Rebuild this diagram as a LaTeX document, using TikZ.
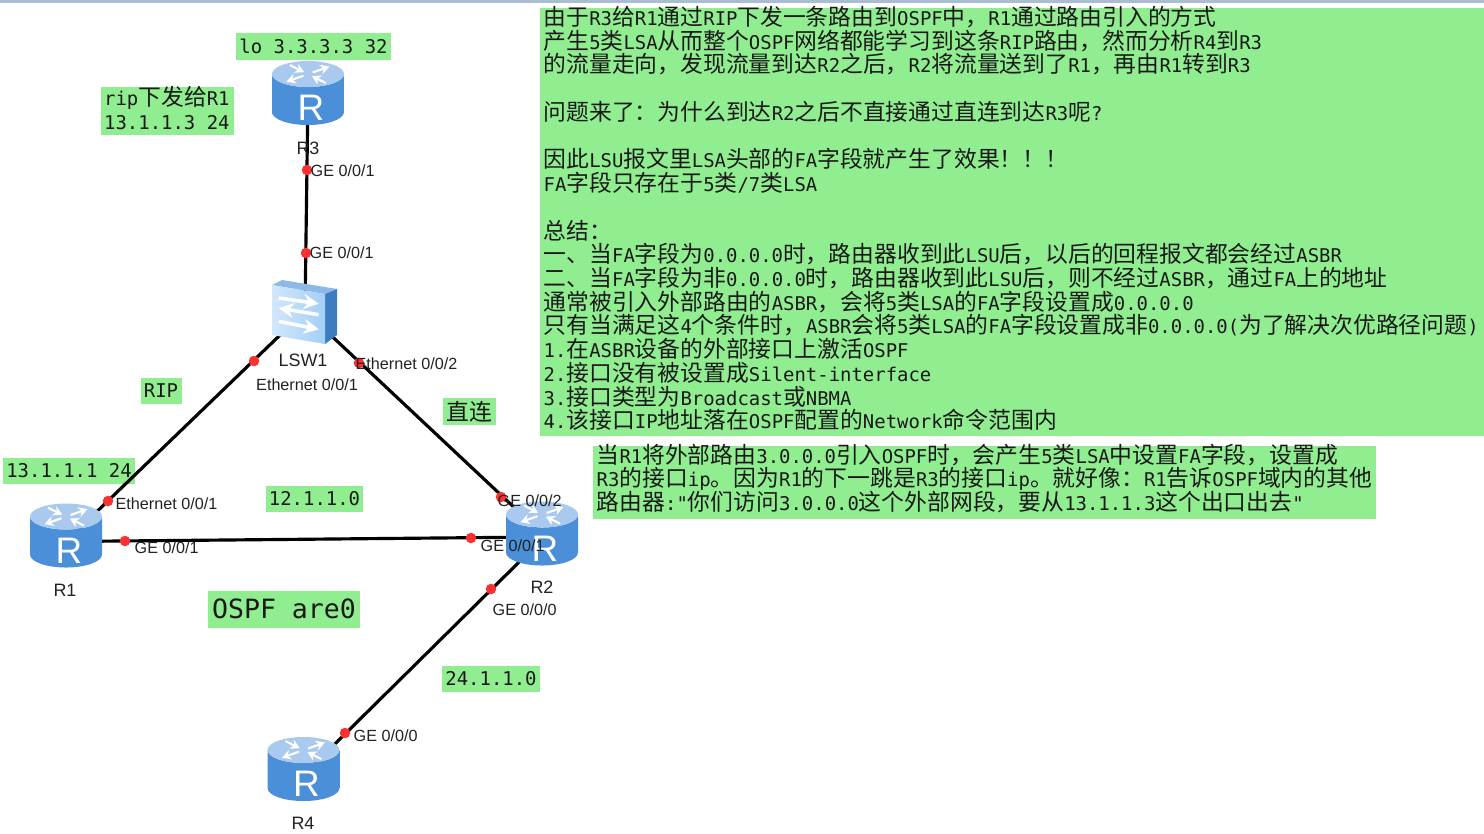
\documentclass[tikz,border=0pt]{standalone}
\usepackage{fontspec}
\usetikzlibrary{arrows.meta}
\setmainfont{Liberation Sans}
\newfontfamily\cjk{Noto Sans CJK SC}
\newfontfamily\latinfont[Scale=0.83]{DejaVu Sans Mono}
\newXeTeXintercharclass\cjkclass
\newcount\cjkcode
\newcommand\markcjk[2]{\cjkcode=#1 \loop\XeTeXcharclass\cjkcode=\cjkclass\ifnum\cjkcode<#2 \advance\cjkcode by 1 \repeat}
\markcjk{"3000}{"303F}
\markcjk{"4E00}{"9FFF}
\markcjk{"FF00}{"FFEF}
\XeTeXinterchartoks 0 \cjkclass={\cjk}
\XeTeXinterchartoks 4095 \cjkclass={\cjk}
\XeTeXinterchartoks \cjkclass 0={\latinfont}
\XeTeXinterchartoks 4095 0={\latinfont}
\newcommand\mixfont[2]{\fontsize{#1}{#2}\selectfont\XeTeXinterchartokenstate=1 \latinfont}
\definecolor{boxgreen}{HTML}{90EE90}
\definecolor{topbar}{HTML}{A9BDD3}
\definecolor{portred}{HTML}{FB3030}
\definecolor{labelgray}{HTML}{222222}
\definecolor{routerside}{HTML}{4A8FD8}
\definecolor{routermid}{HTML}{6AAEEA}
\definecolor{routertop}{HTML}{A9C9EE}
\definecolor{switchtop}{HTML}{8DB8E8}
\definecolor{switchside}{HTML}{3D7CC0}
\definecolor{switchlight}{HTML}{D2E7FB}
\definecolor{switchdark}{HTML}{A3CFF6}
\tikzset{
  greenbox/.style={fill=boxgreen, inner sep=0pt, text=black!90, font=\mixfont{6.49pt}{6.75pt}},
  device/.style={inner sep=0pt, minimum size=1mm},
  portdot/.style={circle, fill=portred, inner sep=0pt, minimum size=0.105cm},
  portlabel/.style={inner sep=0pt, text=labelgray, font=\fontsize{4.6pt}{5pt}\selectfont},
  devname/.style={inner sep=0pt, text=labelgray, font=\fontsize{5.1pt}{6pt}\selectfont},
  link/.style={line width=0.9pt, black},
  router/.pic={
    \shade[left color=routerside, middle color=routermid, right color=routerside]
      (-.36,.19) -- (-.36,-.19) arc[x radius=.36, y radius=.13, start angle=180, end angle=360] -- (.36,.19) arc[x radius=.36, y radius=.13, start angle=0, end angle=-180] -- cycle;
    \fill[routertop] (0,.19) ellipse[x radius=.36, y radius=.13];
    \foreach \ang/\dr in {40/1,130/-1,220/1,310/-1}
      \draw[white, line width=.6pt, -{Stealth[length=.9mm, width=1mm]}, yscale=.42, shift={(0,.45)}]
        (\ang:{.17-.11*\dr}) -- (\ang:{.17+.11*\dr});
    \node[text=white, inner sep=0pt, font=\fontsize{10.5pt}{11pt}\selectfont] (-letter) at (.03,-.15) {R};
  },
  switch/.pic={
    \fill[switchtop] (-.33,.26) -- (-.23,.31) -- (.32,.22) -- (.20,.17) -- cycle;
    \fill[switchside] (.20,.17) -- (.32,.22) -- (.32,-.24) -- (.20,-.33) -- cycle;
    \shade[left color=switchlight, right color=switchdark] (-.33,.26) -- (.20,.17) -- (.20,-.33) -- (-.33,-.24) -- cycle;
    \draw[white, line width=1pt, -{Stealth[length=1.5mm, width=1.5mm]}] (-.263,.13) -- (.137,.073);
    \draw[white, line width=1pt, -{Stealth[length=1.5mm, width=1.5mm]}] (.137,-.037) -- (-.263,.03);
    \draw[white, line width=1pt, -{Stealth[length=1.5mm, width=1.5mm]}] (-.263,-.103) -- (.137,-.183);
  }
}
\begin{document}
\begin{tikzpicture}
\useasboundingbox (0,0) rectangle (14.84,-8.33);
\fill[white] (0,0) rectangle (14.84,-8.33);
\fill[topbar] (0,0) rectangle (14.84,-0.03);

% text boxes
\fill[boxgreen] (5.40,-0.08) rectangle (14.84,-4.36);
\node[greenbox, fill=none, anchor=north west, align=left] (summary) at (5.43,-0.055) {由于R3给R1通过RIP下发一条路由到OSPF中，R1通过路由引入的方式\\
产生5类LSA从而整个OSPF网络都能学习到这条RIP路由，然而分析R4到R3\\
的流量走向，发现流量到达R2之后，R2将流量送到了R1，再由R1转到R3\\[6.75pt]
问题来了：为什么到达R2之后不直接通过直连到达R3呢?\\[6.75pt]
因此LSU报文里LSA头部的FA字段就产生了效果！！！\\
FA字段只存在于5类/7类LSA\\[6.75pt]
总结：\\
一、当FA字段为0.0.0.0时，路由器收到此LSU后，以后的回程报文都会经过ASBR\\
二、当FA字段为非0.0.0.0时，路由器收到此LSU后，则不经过ASBR，通过FA上的地址\\
通常被引入外部路由的ASBR，会将5类LSA的FA字段设置成0.0.0.0\\
只有当满足这4个条件时，ASBR会将5类LSA的FA字段设置成非0.0.0.0(为了解决次优路径问题)\\
1.在ASBR设备的外部接口上激活OSPF\\
2.接口没有被设置成Silent-interface\\
3.接口类型为Broadcast或NBMA\\
4.该接口IP地址落在OSPF配置的Network命令范围内};
\fill[boxgreen] (5.93,-4.46) rectangle (13.76,-5.19);
\node[greenbox, fill=none, anchor=north west, align=left] (farule) at (5.96,-4.43) {当R1将外部路由3.0.0.0引入OSPF时，会产生5类LSA中设置FA字段，设置成\\
R3的接口ip。因为R1的下一跳是R3的接口ip。就好像：R1告诉OSPF域内的其他\\
路由器:"你们访问3.0.0.0这个外部网段，要从13.1.1.3这个出口出去"};

\fill[boxgreen] (1.01,-0.87) rectangle (2.34,-1.35);
\node[greenbox, fill=none, anchor=north west, align=left] (ripaddr) at (1.035,-0.855) {rip下发给R1\\13.1.1.3 24};
\node[greenbox, minimum width=1.55cm, minimum height=0.27cm] (loaddr) at (3.135,-0.46) {lo 3.3.3.3 32};
\node[greenbox, minimum width=0.41cm, minimum height=0.26cm] (riplabel) at (1.61,-3.91) {RIP};
\node[greenbox, minimum width=0.53cm, minimum height=0.27cm] (directlabel) at (4.695,-4.115) {直连};
\node[greenbox, minimum width=1.32cm, minimum height=0.26cm] (r1addr) at (0.69,-4.71) {13.1.1.1 24};
\node[greenbox, minimum width=0.97cm, minimum height=0.26cm] (net12) at (3.145,-4.99) {12.1.1.0};
\node[greenbox, minimum width=0.98cm, minimum height=0.26cm] (net24) at (4.91,-6.79) {24.1.1.0};
\node[greenbox, minimum width=1.52cm, minimum height=0.37cm, font=\mixfont{9.1pt}{10pt}] (area) at (2.84,-6.09) {OSPF are0};

% devices
\node[device] (R3) at (3.08,-0.93) {};
\node[device] (LSW1) at (3.05,-3.11) {};
\node[device] (R1) at (0.66,-5.355) {};
\node[device] (R2) at (5.42,-5.335) {};
\node[device] (R4) at (3.035,-7.69) {};

% links
\draw[link] (R3) -- (LSW1);
\draw[link] (LSW1) -- ([xshift=.06cm]R1.center);
\draw[link] (LSW1) -- (R2);
\draw[link] ([yshift=-.06cm]R1.center) -- ([yshift=-.035cm]R2.center);
\draw[link] ([xshift=.06cm]R2.center) -- ([xshift=.06cm]R4.center);

\pic (R3icon) at (R3) {router};
\pic (R1icon) at (R1) {router};
\pic (R2icon) at (R2) {router};
\pic (R4icon) at (R4) {router};
\pic (LSW1icon) at (LSW1) {switch};

% ports
\node[portdot] (p31) at (3.07,-1.70) {};
\node[portdot] (ps1) at (3.06,-2.53) {};
\node[portdot] (ps2) at (2.54,-3.61) {};
\node[portdot] (ps3) at (3.59,-3.63) {};
\node[portdot] (p11) at (1.08,-5.01) {};
\node[portdot] (p22) at (5.01,-4.97) {};
\node[portdot] (p12) at (1.25,-5.41) {};
\node[portdot] (p21) at (4.71,-5.38) {};
\node[portdot] (p20) at (4.91,-5.89) {};
\node[portdot] (p40) at (3.45,-7.33) {};

% labels
\node[portlabel, anchor=west] (l31) at (3.10,-1.71) {GE 0/0/1};
\node[portlabel, anchor=west] (ls1) at (3.09,-2.53) {GE 0/0/1};
\node[portlabel, anchor=west] (ls3) at (3.55,-3.64) {Ethernet 0/0/2};
\node[portlabel] (ls2) at (3.07,-3.85) {Ethernet 0/0/1};
\node[portlabel, anchor=west] (l11) at (1.15,-5.04) {Ethernet 0/0/1};
\node[portlabel, anchor=west] (l12) at (1.34,-5.48) {GE 0/0/1};
\node[portlabel, anchor=west] (l22) at (4.97,-5.01) {GE 0/0/2};
\node[portlabel, anchor=west] (l21) at (4.80,-5.46) {GE 0/0/1};
\node[portlabel, anchor=west] (l20) at (4.92,-6.10) {GE 0/0/0};
\node[portlabel, anchor=west] (l40) at (3.53,-7.36) {GE 0/0/0};
\node[devname] (n3) at (3.08,-1.48) {R3};
\node[devname] (ns) at (3.03,-3.60) {LSW1};
\node[devname] (n1) at (0.65,-5.90) {R1};
\node[devname] (n2) at (5.42,-5.87) {R2};
\node[devname] (n4) at (3.03,-8.23) {R4};
\end{tikzpicture}
\end{document}
